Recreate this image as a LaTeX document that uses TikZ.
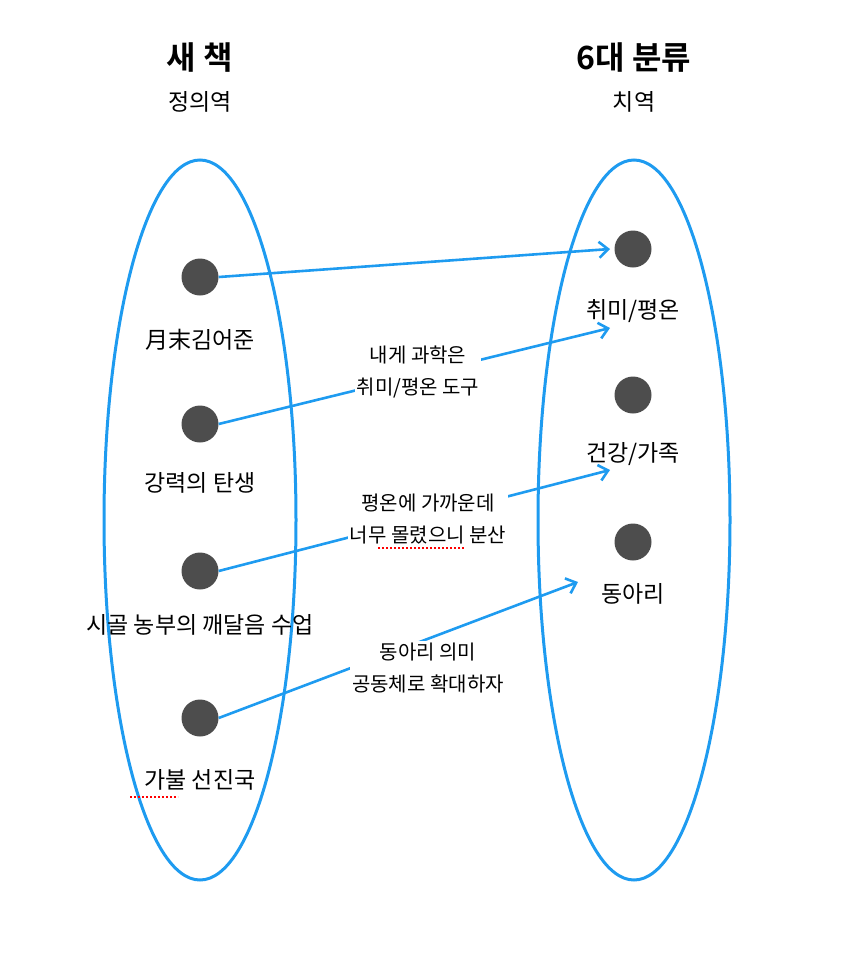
\documentclass[tikz,border=0pt]{standalone}
\usepackage{fontspec}
\setmainfont{Noto Sans CJK KR}
\newfontfamily\kb{Noto Sans CJK KR Bold}
\usetikzlibrary{arrows.meta}
\definecolor{bl}{HTML}{1E9BF0}
\definecolor{dg}{HTML}{4D4D4D}
\tikzset{
 dotn/.style={circle,fill=dg,minimum size=37pt,inner sep=0pt},
 lab/.style={font=\fontsize{23}{26}\selectfont},
 hd/.style={font=\kb\fontsize{32}{36}\selectfont},
 sub/.style={font=\fontsize{23}{26}\selectfont},
 arr/.style={draw=bl,line width=2.6pt,-{Straight Barb[length=9pt,width=16pt,line width=2.6pt]}},
 alab/.style={fill=white,align=center,font=\fontsize{20}{32}\selectfont,inner sep=2pt},
 ell/.style={draw=bl,line width=3pt}
}
\begin{document}
\begin{tikzpicture}[x=1pt,y=-1pt]
\useasboundingbox (0,0) rectangle (868,962);
\draw[ell] (200,520) ellipse [x radius=96,y radius=360];
\draw[ell] (634,520) ellipse [x radius=96,y radius=360];
\node[hd] (h1) at (200,58) {새 책};
\node[sub] (s1) at (200,102) {정의역};
\node[hd] (h2) at (634,58) {6대 분류};
\node[sub] (s2) at (634,102) {치역};
\node[dotn] (a1) at (200,277) {};
\node[dotn] (a2) at (200,424) {};
\node[dotn] (a3) at (200,571) {};
\node[dotn] (a4) at (200,718) {};
\node[dotn] (b1) at (633,249) {};
\node[dotn] (b2) at (633,395) {};
\node[dotn] (b3) at (633,542) {};
\node[lab] (la1) at (200,340) {月末김어준};
\node[lab] (la2) at (200,483) {강력의 탄생};
\node[lab] (la3) at (200,625) {시골 농부의 깨달음 수업};
\node[lab] (la4) at (200,780) {가불 선진국};
\node[lab] (lb1) at (633,311) {취미/평온};
\node[lab] (lb2) at (633,454) {건강/가족};
\node[lab] (lb3) at (633,594) {동아리};
\coordinate (t1) at (610,249);
\coordinate (t2) at (610,328);
\coordinate (t3) at (610,470);
\coordinate (t4) at (578,582);
\draw[arr] (a1.east) -- (t1);
\draw[arr] (a2.east) -- (t2);
\draw[arr] (a3.east) -- (t3);
\draw[arr] (a4.east) -- (t4);
\node[alab] (m2) at (418,372) {내게 과학은\\취미/평온 도구};
\node[alab] (m3) at (428,519) {평온에 가까운데\\너무 몰렸으니 분산};
\node[alab] (m4) at (428,668) {동아리 의미\\공동체로 확대하자};
\draw[red,line width=2pt,dash pattern=on 2pt off 2pt] (378,548) -- (465,548);
\draw[red,line width=2pt,dash pattern=on 2pt off 2pt] (130,797) -- (178,797);
\end{tikzpicture}
\end{document}
